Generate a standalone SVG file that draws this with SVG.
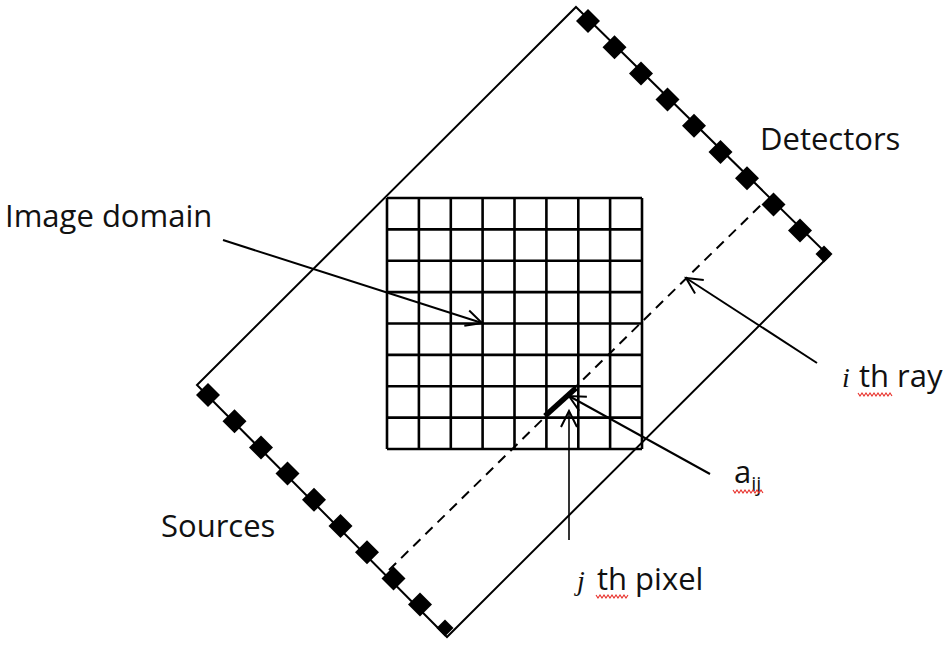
<svg xmlns="http://www.w3.org/2000/svg" xmlns:xlink="http://www.w3.org/1999/xlink" width="950" height="645" viewBox="0 0 950 645">
  <style>
    .lbl { font-family: "Open Sans", "Liberation Sans", sans-serif; font-size: 31px; fill: #111; }
    .mvar { font-family: "Liberation Serif", serif; font-style: italic; font-size: 28px; fill: #111; }
    .edge { fill: none; stroke: #000; stroke-width: 2; }
    .grid { fill: none; stroke: #000; stroke-width: 2.6; }
    .arrow { fill: none; stroke: #000; stroke-width: 2; marker-end: url(#head); }
    .squig { fill: none; stroke: #e8302a; stroke-width: 1.1; }
  </style>
  <defs>
    <marker id="head" markerUnits="userSpaceOnUse" markerWidth="22" markerHeight="22" viewBox="0 0 22 22" refX="19" refY="11" orient="auto">
      <path d="M3,3 L19,11 L3,19" fill="none" stroke="#000" stroke-width="2"/>
    </marker>
    <rect id="sq" x="-8.5" y="-8.5" width="17" height="17" fill="#000" transform="rotate(45)"/>
    <rect id="sqs" x="-6" y="-6" width="12" height="12" fill="#000" transform="rotate(45)"/>
  </defs>
  <rect width="950" height="645" fill="#fff"/>

  <g id="frame">
    <polygon class="edge" points="576,7 829,256 447,637 197,385"/>
    <line x1="389" y1="570" x2="765" y2="201" stroke="#000" stroke-width="2" stroke-dasharray="10,7"/>
  </g>

  <g id="image-domain">
    <path class="grid" d="M387,198 H642 M387,229.4 H642 M387,260.8 H642 M387,292.1 H642 M387,323.5 H642 M387,354.9 H642 M387,386.3 H642 M387,417.6 H642 M387,449 H642
      M387,198 V449 M418.9,198 V449 M450.8,198 V449 M482.6,198 V449 M514.5,198 V449 M546.4,198 V449 M578.3,198 V449 M610.1,198 V449 M642,198 V449"/>
    <line id="aij-segment" x1="545" y1="416" x2="576" y2="388" stroke="#000" stroke-width="5.5"/>
  </g>

  <g id="detectors">
    <use xlink:href="#sq" transform="translate(588,21)"/>
    <use xlink:href="#sq" transform="translate(614.5,47.2)"/>
    <use xlink:href="#sq" transform="translate(641,73.4)"/>
    <use xlink:href="#sq" transform="translate(667.5,99.6)"/>
    <use xlink:href="#sq" transform="translate(694,125.8)"/>
    <use xlink:href="#sq" transform="translate(720.5,152)"/>
    <use xlink:href="#sq" transform="translate(747,178.2)"/>
    <use xlink:href="#sq" transform="translate(773.5,204.4)"/>
    <use xlink:href="#sq" transform="translate(800,230.6)"/>
    <use xlink:href="#sqs" transform="translate(824,254)"/>
  </g>

  <g id="sources">
    <use xlink:href="#sq" transform="translate(208,395)"/>
    <use xlink:href="#sq" transform="translate(234.5,421.2)"/>
    <use xlink:href="#sq" transform="translate(261,447.4)"/>
    <use xlink:href="#sq" transform="translate(287.5,473.6)"/>
    <use xlink:href="#sq" transform="translate(314,499.8)"/>
    <use xlink:href="#sq" transform="translate(340.5,526)"/>
    <use xlink:href="#sq" transform="translate(367,552.2)"/>
    <use xlink:href="#sq" transform="translate(393.5,578.4)"/>
    <use xlink:href="#sq" transform="translate(420,604.6)"/>
    <use xlink:href="#sqs" transform="translate(445,628)"/>
  </g>

  <g id="connectors">
    <line class="arrow" x1="223" y1="240" x2="482" y2="323"/>
    <line class="arrow" x1="817" y1="363" x2="686" y2="278"/>
    <line class="arrow" x1="710" y1="474" x2="569" y2="396"/>
    <line class="arrow" x1="569" y1="540" x2="569" y2="411" style="stroke-width:1.6"/>
  </g>

  <g id="label-image-domain">
    <text class="lbl" x="5" y="227">Image domain</text>
  </g>
  <g id="label-detectors">
    <text class="lbl" x="760" y="150">Detectors</text>
  </g>
  <g id="label-sources">
    <text class="lbl" x="161" y="537">Sources</text>
  </g>
  <g id="label-ray">
    <text x="842" y="387"><tspan class="mvar">i</tspan><tspan class="lbl" x="859">th ray</tspan></text>
    <polyline class="squig" points="858,393 860,396 862,393 864,396 866,393 868,396 870,393 872,396 874,393 876,396 878,393 880,396 882,393 884,396 886,393 888,396 890,393 892,396"/>
  </g>
  <g id="label-aij">
    <text class="lbl" x="734" y="483">a<tspan font-size="20" dy="8">ij</tspan></text>
    <polyline class="squig" points="733,490 735,493 737,490 739,493 741,490 743,493 745,490 747,493 749,490 751,493 753,490 755,493 757,490 759,493 761,490 763,493"/>
  </g>
  <g id="label-pixel">
    <text x="577" y="590"><tspan class="mvar">j</tspan><tspan class="lbl" x="597">th pixel</tspan></text>
    <polyline class="squig" points="596,595 598,598 600,595 602,598 604,595 606,598 608,595 610,598 612,595 614,598 616,595 618,598 620,595 622,598 624,595 626,598 628,595"/>
  </g>
</svg>
